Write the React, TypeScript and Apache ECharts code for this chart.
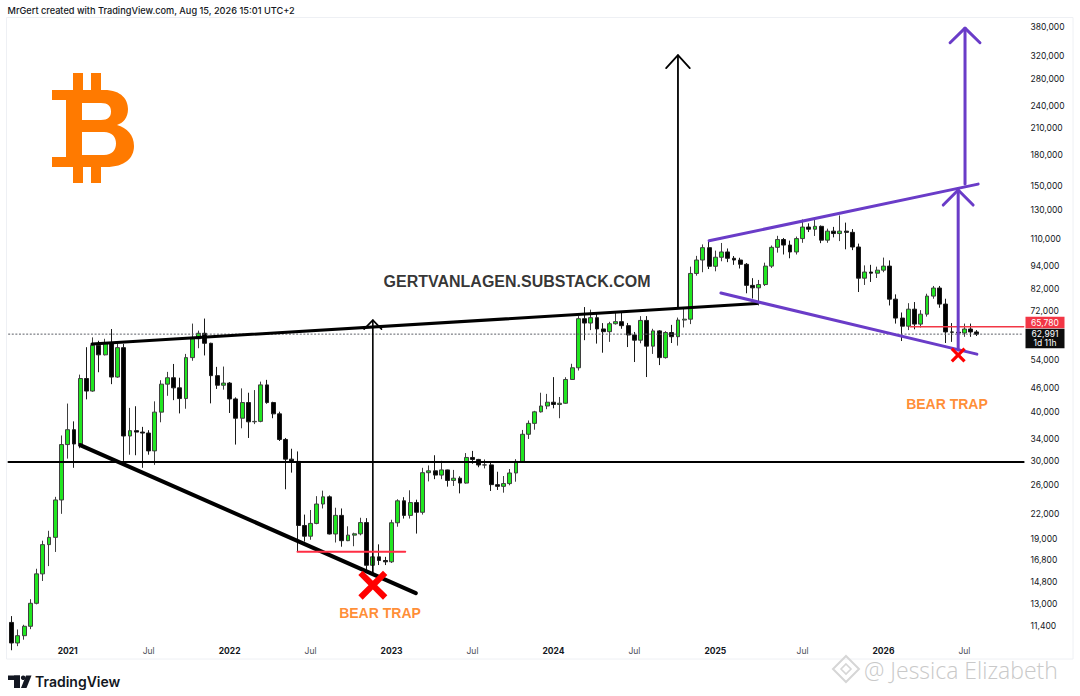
import React, { useEffect, useRef } from "react";
import * as echarts from "echarts";

// ---------- categories (bi-weekly bars) ----------
const START_UTC = Date.UTC(2020, 7, 31);
const SLOT_COUNT = 163;
const dates: string[] = Array.from({ length: SLOT_COUNT }, (_, i) =>
  new Date(START_UTC + i * 14 * 86400000).toISOString().slice(0, 10)
);

const xTickDates = ["2021-01-04", "2021-07-05", "2022-01-03", "2022-07-04", "2023-01-02", "2023-07-03", "2024-01-01", "2024-07-01", "2024-12-30", "2025-07-14", "2026-01-12", "2026-07-13"];
const xTickLabels = ["2021", "Jul", "2022", "Jul", "2023", "Jul", "2024", "Jul", "2025", "Jul", "2026", "Jul"];

const yTicks = [380000, 320000, 280000, 240000, 210000, 180000, 150000, 130000, 110000, 94000, 82000, 72000, 54000, 46000, 40000, 34000, 30000, 26000, 22000, 19000, 16800, 14800, 13000, 11400];
const priceMin = 10450;
const priceMax = 403200;

// ---------- OHLC ----------
const opens = [
  11650, 10330, 10780, 11390, 13030, 15480, 18370, 19170, 23860, 33000,
  36000, 33110, 48580, 45140, 59000, 55800, 59800, 49000, 58200, 34700,
  35800, 35500, 35300, 31800, 39900, 47000, 48800, 46000, 43200, 54900,
  61300, 63300, 59700, 49400, 46700, 47300, 43100, 38500, 42200, 37700,
  37800, 46800, 42200, 39500, 34000, 30300, 29900, 20550, 19300, 20800,
  23300, 24300, 19550, 21800, 18800, 19420, 19570, 20900, 16280, 17100,
  16740, 16610, 20880, 23740, 21800, 23500, 22200, 27990, 28300, 27600,
  28450, 26750, 27100, 26340, 30600, 30250, 29280, 29300, 26100, 25840,
  26260, 27940, 29900, 35050, 37360, 39970, 41360, 42280, 41730, 42030,
  48300, 51730, 68950, 67210, 69360, 64940, 63900, 66940, 67760, 66190,
  62680, 60800, 68250, 58710, 64200, 54900, 63600, 62050, 68400, 68750,
  89850, 97200, 104500, 93700, 98800, 101900, 98200, 97200, 94800, 83800,
  82600, 84200, 93800, 104700, 109600, 106100, 101900, 110200, 117900, 116400,
  118400, 109200, 115100, 113500, 115100, 114300, 104900, 87400, 90600, 90000,
  91600, 93800, 77300, 69200, 66000, 72900, 66800, 70800, 78700, 82500,
  75100, 63800, 63700, 63400, 64900, 63800,
];
const closes = [
  10330, 10780, 11390, 13030, 15480, 18370, 19170, 23860, 33000, 36000,
  33110, 48580, 45140, 59000, 55800, 59800, 49000, 58200, 34700, 35800,
  35500, 35300, 31800, 39900, 47000, 48800, 46000, 43200, 54900, 61300,
  63300, 59700, 49400, 46700, 47300, 43100, 38500, 42200, 37700, 37800,
  46800, 42200, 39500, 34000, 30300, 29900, 20550, 19300, 20800, 23300,
  24300, 19550, 21800, 18800, 19420, 19570, 20900, 16280, 17100, 16740,
  16610, 20880, 23740, 21800, 23500, 22200, 27990, 28300, 27600, 28450,
  26750, 27100, 26340, 30600, 30250, 29280, 29300, 26100, 25840, 26260,
  27940, 29900, 35050, 37360, 39970, 41360, 42280, 41730, 42030, 48300,
  51730, 68950, 67210, 69360, 64940, 63900, 66940, 67760, 66190, 62680,
  60800, 68250, 58710, 64200, 54900, 63600, 62050, 68400, 68750, 89850,
  97200, 104500, 93700, 98800, 101900, 98200, 97200, 94800, 83800, 82600,
  84200, 93800, 104700, 109600, 106100, 101900, 110200, 117900, 116400, 118400,
  109200, 115100, 113500, 115100, 114300, 104900, 87400, 90600, 90000, 91600,
  93800, 77300, 69200, 66000, 72900, 66800, 70800, 78700, 82500, 75100,
  63800, 63700, 63400, 64900, 63800, 62991,
];
const lows = [
  9900, 10140, 10530, 11200, 12950, 14850, 16200, 17600, 22000, 30400,
  28800, 32300, 43000, 44950, 50400, 55600, 47000, 48800, 30000, 31100,
  31000, 28800, 31100, 29300, 37600, 43900, 42800, 39600, 40700, 53900,
  58000, 55600, 42000, 45700, 45500, 39700, 33000, 36300, 34300, 37200,
  37600, 41900, 38500, 33700, 25400, 28000, 17600, 18700, 18900, 20700,
  22700, 19500, 18600, 18150, 18750, 18200, 19400, 15600, 15500, 16300,
  16300, 16500, 20400, 21400, 21400, 19600, 21900, 26600, 26950, 26950,
  25800, 25900, 24800, 26250, 29500, 28900, 28700, 25150, 25300, 24900,
  26000, 26550, 29650, 34100, 36000, 39800, 40600, 40800, 38500, 41900,
  48200, 50900, 60800, 64500, 59600, 56500, 60200, 66600, 65000, 58400,
  53500, 59700, 49000, 56100, 52550, 54600, 59800, 58900, 65500, 66800,
  88700, 90500, 92200, 91000, 96500, 96000, 94500, 92500, 80000, 77600,
  74500, 83500, 92800, 101500, 100400, 98200, 100400, 107500, 114500, 111900,
  107300, 107500, 111000, 108600, 103500, 103000, 80600, 84000, 85500, 87500,
  90500, 74500, 67000, 60500, 64500, 64800, 65500, 69800, 77500, 73500,
  59800, 60200, 60500, 62000, 62000, 62300,
];
const highs = [
  12090, 11180, 11490, 13350, 15950, 18800, 19920, 24300, 34800, 41950,
  37800, 49700, 58350, 61800, 60600, 61300, 64900, 59600, 59500, 40900,
  41300, 36600, 35900, 42500, 48100, 50500, 52900, 48800, 56100, 67000,
  64300, 69000, 59900, 52000, 52100, 47600, 43500, 45850, 44700, 45400,
  47700, 48200, 42400, 40000, 34300, 32200, 31700, 21900, 22500, 24400,
  25200, 24500, 22800, 22700, 20450, 19700, 21500, 21450, 17400, 18400,
  17100, 21250, 23960, 24250, 25250, 23900, 28800, 29200, 31000, 30000,
  28500, 28450, 27400, 31400, 31800, 30350, 30250, 29700, 28150, 27450,
  28600, 30300, 35950, 38000, 40200, 44700, 44400, 48970, 43600, 48950,
  52950, 70000, 73800, 72700, 71300, 67200, 67700, 71950, 71900, 67250,
  63800, 69990, 70000, 65000, 64500, 64100, 66500, 69400, 73600, 93500,
  99600, 106500, 108350, 102700, 107400, 104000, 99500, 98500, 95500, 87400,
  86500, 95700, 105800, 112000, 110600, 108900, 111500, 123200, 120500, 124400,
  119000, 116800, 118000, 126200, 121000, 116500, 107000, 94200, 94500, 93500,
  98600, 97000, 79500, 71500, 75500, 76000, 72500, 79800, 83500, 83500,
  77500, 67200, 66800, 67000, 67000, 64500,
];

// ---------- annotations: [bar index, price] ----------
const supportPrice = 29800;
const currentPrice = 62991;
const currentCountdown = "1d 11h";
const redLevelPrice = 65780;
const blackLowerTrend = [[11.0, 32900], [64.9, 13830]];
const blackUpperTrend = [[12.9, 59420], [119.7, 75330]];
const blackArrow1 = [[58, 15370], [58, 68390]];
const blackArrow1Head = [[56.6, 64880], [58, 68390], [59.4, 64880]];
const blackArrow2 = [[107, 73360], [107, 322700]];
const blackArrow2Head = [[105.1, 299000], [107, 322700], [108.9, 299000]];
const redTrapLine = [[45.9, 17610], [63.2, 17610]];
const redLevelLine = [[144.3, 65780], [162.5, 65780]];
const purpleUpper = [[112.0, 108800], [155.2, 151600]];
const purpleLower = [[113.9, 80100], [155.0, 56040]];
const purpleArrow1 = [[152, 57370], [152, 146400]];
const purpleArrow1Head = [[149.6, 134100], [152, 146400], [154.4, 134100]];
const purpleArrow2 = [[153.1, 151600], [153.1, 377900]];
const purpleArrow2Head = [[150.7, 346800], [153.1, 377900], [155.5, 346800]];
const bigCross = [[58, 14490]];
const smallCross = [[152, 55730]];
const bearTrapLabels = [[59.15, 12300], [150.2, 41820]];
const siteLabel = [[81.15, 85930]];

const BTC_PATH =
  "M52,90 L104,90 C122,90 128,100 128,109 C128,118 123,123 117,125 C127,128 134,135 134,146 C134,158 125,167 106,167 L52,167 L52,157 L66,157 L66,100 L52,100 Z " +
  "M82,103 L82,120 L101,120 C108,120 111,117 111,111.5 C111,106 108,103 101,103 Z " +
  "M82,132 L82,155 L104,155 C112,155 116,150 116,143.5 C116,137 112,132 104,132 Z " +
  "M73,73 L83,73 L83,90 L73,90 Z M91,73 L101,73 L101,90 L91,90 Z " +
  "M73,167 L83,167 L83,183 L73,183 Z M91,167 L101,167 L101,183 L91,183 Z";
echarts.graphic.registerShape("btcLogo", echarts.graphic.extendPath(BTC_PATH, {}));

const CROSS = "path://M0,3 L3,0 L10,7 L17,0 L20,3 L13,10 L20,17 L17,20 L10,13 L3,20 L0,17 L7,10 Z";

const toLog = (pts: number[][]) => pts.map(([x, p]) => [x, Math.log(p)]);

function lineSeries(pts: number[][], color: string, width: number, type: any = "solid") {
  return {
    type: "line",
    xAxisIndex: 1,
    yAxisIndex: 0,
    data: toLog(pts),
    symbol: "none",
    silent: true,
    z: 5,
    lineStyle: { color, width, type, cap: "round" },
  };
}

function buildOption() {
  const labelMap: Record<string, string> = {};
  xTickDates.forEach((d, i) => (labelMap[d] = xTickLabels[i]));
  const candles = opens.map((o, i) => [o, closes[i], lows[i], highs[i]].map((v) => Math.log(v)));
  const fullWidth = (p: number) => [[-0.5, p], [SLOT_COUNT - 0.5, p]];
  const font = "Inter, 'Noto Sans', sans-serif";
  return {
    animation: false,
    backgroundColor: "#ffffff",
    grid: { left: 8.56, top: 17, width: 1015, height: 624, containLabel: false },
    xAxis: [
      {
        type: "category",
        data: dates,
        boundaryGap: true,
        axisLine: { show: false },
        axisTick: { show: false },
        splitLine: { show: false },
        axisLabel: {
          interval: (_: number, v: string) => v in labelMap,
          formatter: (v: string) => {
            const t = labelMap[v];
            if (!t) return "";
            return t === "Jul" ? `{m|${t}}` : `{y|${t}}`;
          },
          margin: 5,
          hideOverlap: false,
          rich: {
            y: { fontSize: 8.5, fontWeight: "bold", color: "#131722", fontFamily: font },
            m: { fontSize: 8.5, color: "#4a4d57", fontFamily: font },
          },
        },
      },
      { type: "value", min: -0.5, max: SLOT_COUNT - 0.5, show: false, gridIndex: 0 },
    ],
    yAxis: [
      {
        type: "value",
        position: "right",
        min: Math.log(priceMin),
        max: Math.log(priceMax),
        axisLine: { show: false },
        axisTick: { show: false },
        splitLine: { show: false },
        axisLabel: {
          customValues: yTicks.map((t) => Math.log(t)),
          formatter: (v: number) => {
            let best = yTicks[0];
            for (const t of yTicks) if (Math.abs(Math.log(t) - v) < Math.abs(Math.log(best) - v)) best = t;
            return best.toLocaleString("en-US");
          },
          margin: 7,
          fontSize: 8.5,
          color: "#131722",
          fontFamily: font,
          hideOverlap: false,
        },
      },
    ],
    series: [
      lineSeries(fullWidth(currentPrice), "#5c5f66", 1, [1.2, 2.4]),
      lineSeries(fullWidth(supportPrice), "#000000", 2.2),
      {
        type: "candlestick",
        xAxisIndex: 0,
        yAxisIndex: 0,
        data: candles,
        barWidth: "70%",
        clip: true,
        z: 3,
        itemStyle: {
          color: "#20e620",
          color0: "#000000",
          borderColor: "#3f3f3f",
          borderColor0: "#1a1a1a",
          borderWidth: 1,
        },
      },
      lineSeries(blackLowerTrend, "#000000", 4),
      lineSeries(blackUpperTrend, "#000000", 3),
      lineSeries(blackArrow1, "#000000", 1.6),
      lineSeries(blackArrow1Head, "#000000", 1.6),
      lineSeries(blackArrow2, "#000000", 1.8),
      lineSeries(blackArrow2Head, "#000000", 1.8),
      lineSeries(redTrapLine, "#ff2e44", 2),
      lineSeries(redLevelLine, "#f23645", 1.6),
      lineSeries(purpleUpper, "#6a3cc8", 3),
      lineSeries(purpleLower, "#6a3cc8", 3),
      lineSeries(purpleArrow1, "#6a3cc8", 3),
      lineSeries(purpleArrow1Head, "#6a3cc8", 3),
      lineSeries(purpleArrow2, "#6a3cc8", 3),
      lineSeries(purpleArrow2Head, "#6a3cc8", 3),
      {
        type: "scatter",
        xAxisIndex: 1,
        yAxisIndex: 0,
        data: toLog(bigCross),
        symbol: CROSS,
        symbolSize: 29,
        itemStyle: { color: "#ff0000", opacity: 1 },
        silent: true,
        z: 6,
      },
      {
        type: "scatter",
        xAxisIndex: 1,
        yAxisIndex: 0,
        data: toLog(smallCross),
        symbol: CROSS,
        symbolSize: 15,
        itemStyle: { color: "#ff0000", opacity: 1 },
        silent: true,
        z: 6,
      },
      {
        type: "scatter",
        xAxisIndex: 1,
        yAxisIndex: 0,
        data: toLog(bearTrapLabels),
        symbolSize: 1,
        itemStyle: { color: "rgba(0,0,0,0)" },
        silent: true,
        z: 6,
        label: {
          show: true,
          position: "inside",
          formatter: "BEAR TRAP",
          color: "#ff7000",
          fontWeight: "bold",
          fontSize: 14,
          fontFamily: "'Liberation Sans', Arial, sans-serif",
        },
      },
      {
        type: "scatter",
        xAxisIndex: 1,
        yAxisIndex: 0,
        data: toLog(siteLabel),
        symbolSize: 1,
        itemStyle: { color: "rgba(0,0,0,0)" },
        silent: true,
        z: 6,
        label: {
          show: true,
          position: "inside",
          formatter: "GERTVANLAGEN.SUBSTACK.COM",
          color: "#000000",
          fontWeight: "bold",
          fontSize: 16,
          fontFamily: "'Liberation Sans', Arial, sans-serif",
        },
      },
    ],
  };
}

export default function App() {
  const ref = useRef<HTMLDivElement>(null);
  useEffect(() => {
    if (!ref.current) return;
    const chart = echarts.init(ref.current, null, { renderer: "svg" });
    chart.setOption(buildOption() as any);
    const yRed = chart.convertToPixel({ yAxisIndex: 0 }, Math.log(redLevelPrice)) as number;
    const yCur = chart.convertToPixel({ yAxisIndex: 0 }, Math.log(currentPrice)) as number;
    const font = "Inter, 'Noto Sans', sans-serif";
    const boxX = 1025.5;
    const boxW = 39;
    chart.setOption({
      graphic: [
        {
          type: "rect",
          z: -1,
          shape: { x: 6.5, y: 17.5, width: 1066.5, height: 641.5 },
          style: { fill: "none", stroke: "#eef0f4", lineWidth: 1 },
          silent: true,
        },
        {
          type: "text",
          x: 7.5,
          y: 10.5,
          style: {
            text: "MrGert created with TradingView.com, Aug 15, 2026 15:01 UTC+2",
            fill: "#131722",
            font: `500 9.2px ${font}`,
            verticalAlign: "middle",
            align: "left",
          },
          silent: true,
        },
        { type: "btcLogo", x: 0, y: 0, style: { fill: "#ff7a00" }, silent: true },
        {
          type: "rect",
          z: 10,
          shape: { x: boxX, y: yRed - 10, width: boxW, height: 11.5 },
          style: { fill: "#f23645" },
          silent: true,
        },
        {
          type: "text",
          z: 11,
          x: boxX + boxW / 2,
          y: yRed - 4.2,
          style: { text: redLevelPrice.toLocaleString("en-US"), fill: "#ffffff", font: `8.5px ${font}`, align: "center", verticalAlign: "middle" },
          silent: true,
        },
        {
          type: "rect",
          z: 10,
          shape: { x: boxX, y: yCur - 5.5, width: boxW, height: 19.5 },
          style: { fill: "#0d0d0d" },
          silent: true,
        },
        {
          type: "text",
          z: 11,
          x: boxX + boxW / 2,
          y: yCur - 0.5,
          style: { text: currentPrice.toLocaleString("en-US"), fill: "#ffffff", font: `8.5px ${font}`, align: "center", verticalAlign: "middle" },
          silent: true,
        },
        {
          type: "text",
          z: 11,
          x: boxX + boxW / 2,
          y: yCur + 8.5,
          style: { text: currentCountdown, fill: "#ffffff", font: `8.5px ${font}`, align: "center", verticalAlign: "middle" },
          silent: true,
        },
        // TradingView logo
        { type: "rect", shape: { x: 8, y: 675.5, width: 12, height: 4.5 }, style: { fill: "#131722" }, silent: true },
        { type: "rect", shape: { x: 14, y: 675.5, width: 6, height: 12.5 }, style: { fill: "#131722" }, silent: true },
        { type: "circle", shape: { cx: 23.2, cy: 677.8, r: 2.3 }, style: { fill: "#131722" }, silent: true },
        {
          type: "polygon",
          shape: { points: [[26, 675.5], [31.5, 675.5], [26.5, 688], [21, 688]] },
          style: { fill: "#131722" },
          silent: true,
        },
        {
          type: "text",
          x: 35,
          y: 681.5,
          style: { text: "TradingView", fill: "#131722", font: `600 14px ${font}`, verticalAlign: "middle" },
          silent: true,
        },
        // watermark
        {
          type: "polygon",
          shape: { points: [[846, 656], [859, 669], [846, 682], [833, 669]] },
          style: { fill: "none", stroke: "#d6d6d6", lineWidth: 2 },
          silent: true,
        },
        {
          type: "polygon",
          shape: { points: [[846, 664], [851, 669], [846, 674], [841, 669]] },
          style: { fill: "none", stroke: "#d6d6d6", lineWidth: 1.6 },
          silent: true,
        },
        {
          type: "text",
          x: 864,
          y: 670,
          style: {
            text: "@ Jessica Elizabeth",
            fill: "#c9c9c9",
            font: `300 23px 'Open Sans', 'Noto Sans', sans-serif`,
            verticalAlign: "middle",
          },
          silent: true,
        },
      ],
    } as any);
    return () => chart.dispose();
  }, []);
  return (
    <div style={{ position: "fixed", left: 0, top: 0, width: 1080, height: 696, background: "#ffffff" }}>
      <div ref={ref} style={{ width: 1080, height: 696 }} />
    </div>
  );
}
